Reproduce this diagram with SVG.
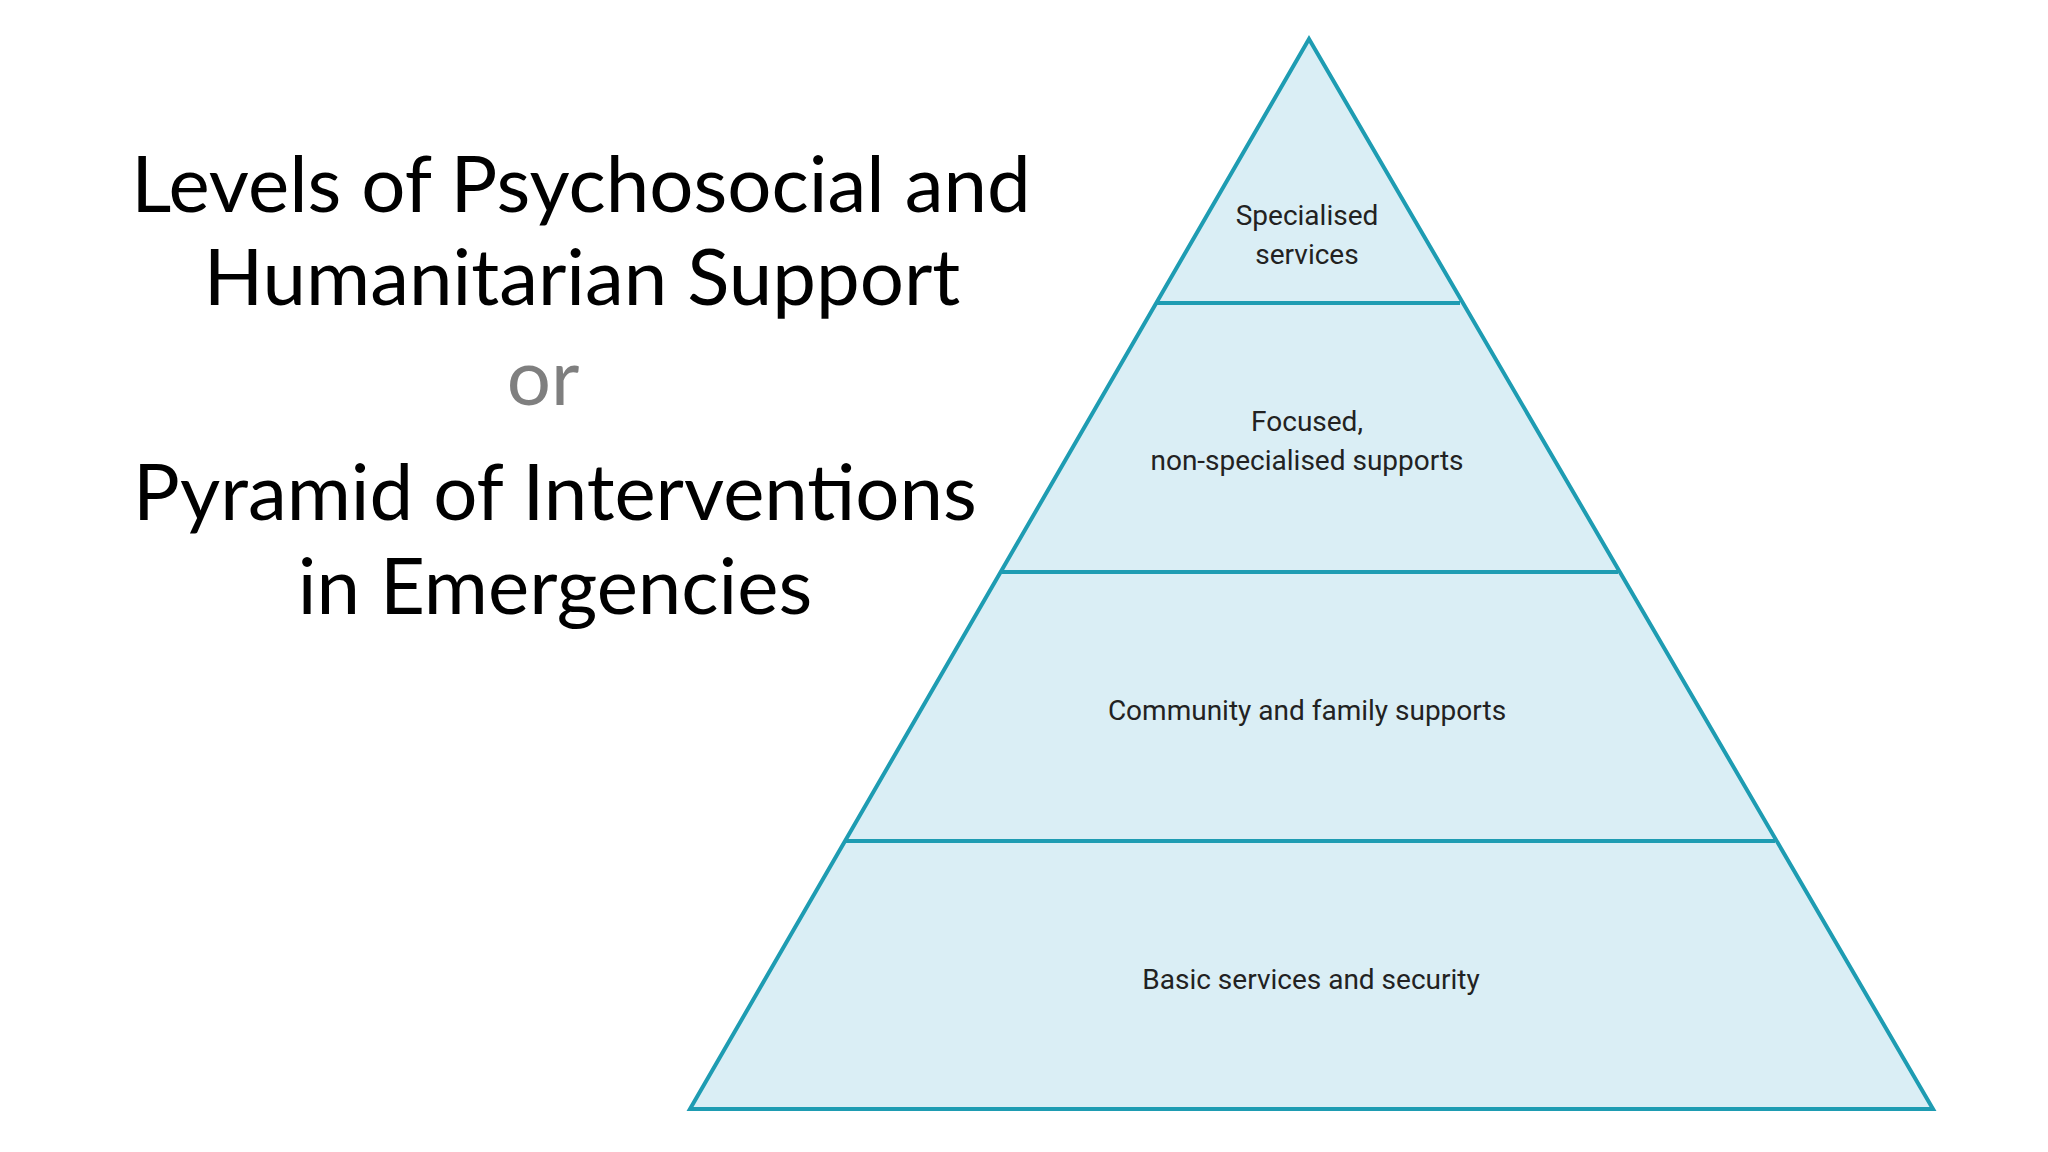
<svg xmlns="http://www.w3.org/2000/svg" width="2048" height="1152" viewBox="0 0 2048 1152">
<style>
.t{font-family:Lato,"Open Sans",sans-serif;font-size:78px;fill:#000;text-anchor:middle}
.l{font-family:Roboto,"DejaVu Sans",sans-serif;font-size:28px;fill:#222;text-anchor:middle}
.s{stroke:#1e9cb2;stroke-width:4;fill:none}
</style>
<rect width="2048" height="1152" fill="#fff"/>
<g id="title">
<text class="t" x="581" y="212">Levels of Psychosocial and</text>
<text class="t" x="582" y="305">Humanitarian Support</text>
<text class="t" x="543" y="405" style="fill:#7f7f7f">or</text>
<text class="t" x="555" y="520">Pyramid of Interventions</text>
<text class="t" x="555" y="614">in Emergencies</text>
</g>
<g id="pyramid">
<polygon points="1309,39 1933,1109 690,1109" fill="#daeef5" class="s" style="fill:#daeef5"/>
</g>
<g id="connectors">
<line class="s" x1="1157" y1="303" x2="1460" y2="303"/>
<line class="s" x1="1002" y1="572" x2="1618" y2="572"/>
<line class="s" x1="846" y1="841" x2="1775" y2="841"/>
</g>
<g id="level1"><text class="l" x="1307" y="225">Specialised</text><text class="l" x="1307" y="264">services</text></g>
<g id="level2"><text class="l" x="1307" y="431">Focused,</text><text class="l" x="1307" y="470">non-specialised supports</text></g>
<g id="level3"><text class="l" x="1307" y="720">Community and family supports</text></g>
<g id="level4"><text class="l" x="1311" y="989">Basic services and security</text></g>
</svg>
